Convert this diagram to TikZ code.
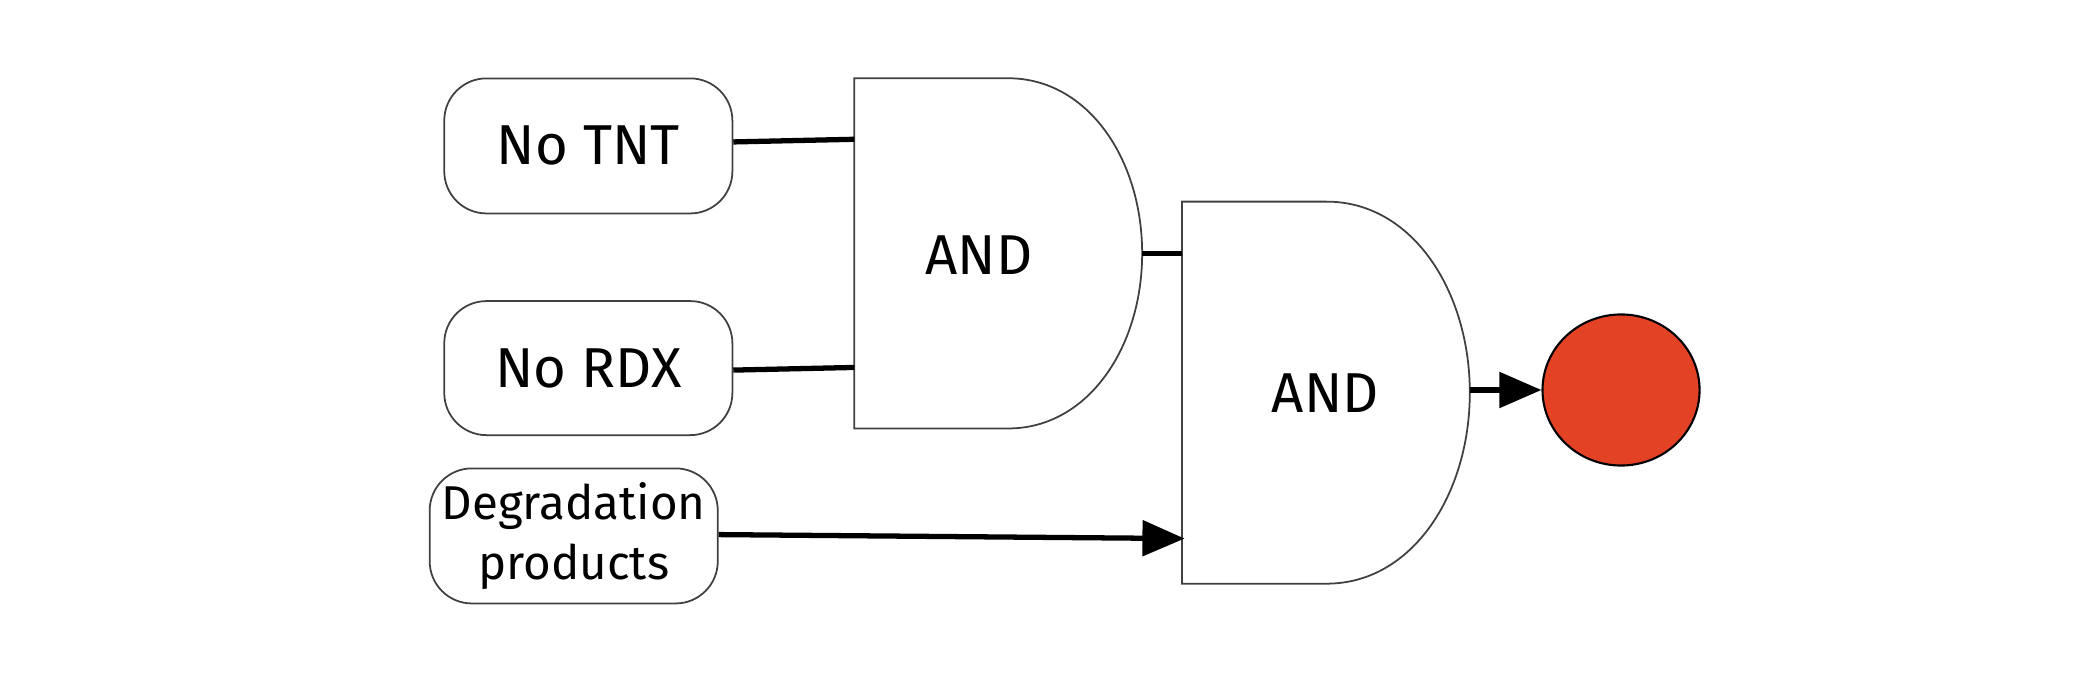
\documentclass[tikz,border=0pt]{standalone}
\usepackage{fontspec}
\setmainfont{Fira Sans}
\usetikzlibrary{arrows.meta,shapes.geometric}
\definecolor{outred}{RGB}{227,67,36}
\begin{document}
\begin{tikzpicture}[x=0.013265cm,y=-0.013265cm,
  box/.style={draw=black!75,line width=0.5pt,rounded corners=12pt,inner sep=0pt},
  gate/.style={draw=black!75,line width=0.5pt,fill=white},
  wire/.style={line width=1.5pt},
  arr/.style={line width=1.5pt,-{Triangle[length=12pt,width=10pt]}}]
\useasboundingbox (0,0) rectangle (1568,507);
\node[box,minimum width=2.88cm,minimum height=1.35cm,font=\fontsize{16}{19}\selectfont] (tnt) at (443.5,110) {No TNT};
\node[box,minimum width=2.88cm,minimum height=1.34cm,font=\fontsize{16}{19}\selectfont] (rdx) at (443.5,277.5) {No RDX};
\node[box,minimum width=2.88cm,minimum height=1.35cm,align=center,font=\fontsize{13.5}{17}\selectfont] (deg) at (432.5,404) {Degradation\\products};
% gate 1
\draw[gate] (644,59) -- (760,59) .. controls (820,59) and (861,120) .. (861,191) .. controls (861,262) and (820,323) .. (760,323) -- (644,323) -- cycle;
\node[font=\fontsize{16}{19}\selectfont] (and1) at (738,192) {AND};
\coordinate (g1a) at (644,105); \coordinate (g1b) at (644,277); \coordinate (g1o) at (861,191);
% gate 2
\draw[gate] (891,152) -- (1000,152) .. controls (1065,152) and (1108,220) .. (1108,296) .. controls (1108,372) and (1065,440) .. (1000,440) -- (891,440) -- cycle;
\node[font=\fontsize{16}{19}\selectfont] (and2) at (999,296) {AND};
\coordinate (g2a) at (891,191); \coordinate (g2b) at (893,406); \coordinate (g2o) at (1108,294);
\node[draw=black,line width=0.6pt,fill=outred,ellipse,minimum width=1.57cm,minimum height=1.51cm,inner sep=0pt] (out) at (1222,294) {};
\draw[wire] (tnt.east|-0,107) -- (g1a);
\draw[wire] (rdx.east|-0,279) -- (g1b);
\draw[wire] (g1o) -- (g2a);
\draw[arr] (deg.east|-0,403) -- (g2b);
\draw[arr] (g2o) -- (out.west);
\end{tikzpicture}
\end{document}
